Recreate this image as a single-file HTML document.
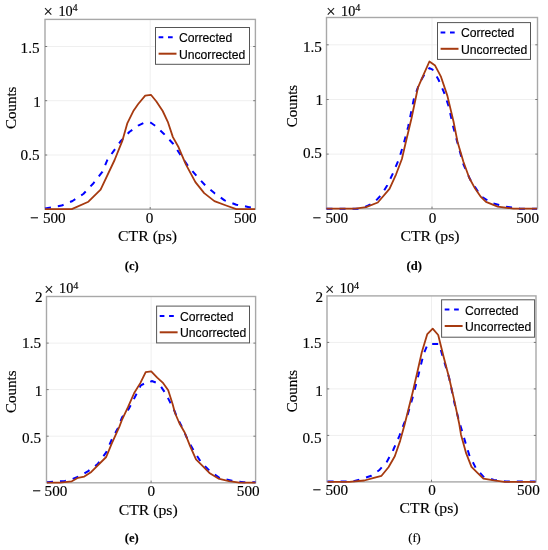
<!DOCTYPE html>
<html><head><meta charset="utf-8"><title>CTR histograms</title>
<style>html,body{margin:0;padding:0;background:#fff;}svg{display:block;filter:blur(0.35px);}
.s{font-family:'Liberation Serif','Times New Roman',serif;}
.a{font-family:'Liberation Sans',Arial,sans-serif;}
text{fill:#000;stroke:#000;stroke-width:0.15px;}</style></head>
<body><svg width="548" height="550" viewBox="0 0 548 550">
<rect width="548" height="550" fill="#fff"/>
<line x1="45" y1="155.0" x2="255.4" y2="155.0" stroke="#efefef" stroke-width="1"/>
<line x1="45" y1="100.7" x2="255.4" y2="100.7" stroke="#efefef" stroke-width="1"/>
<line x1="45" y1="46.5" x2="255.4" y2="46.5" stroke="#efefef" stroke-width="1"/>
<line x1="150.2" y1="19.4" x2="150.2" y2="209.2" stroke="#efefef" stroke-width="1"/>
<rect x="45" y="19.4" width="210.4" height="189.8" fill="none" stroke="#a8a8a8" stroke-width="1.4"/>
<polyline points="45.0,208.4 61.6,205.6 72.5,201.0 83.3,194.0 93.5,183.2 102.5,171.7 107.6,159.4 112.7,152.4 120.4,141.5 129.3,132.0 138.2,125.6 143.9,122.8 147.1,122.0 150.9,122.8 156.0,126.3 164.0,133.9 172.9,143.5 180.5,154.9 188.1,166.1 196.9,176.3 205.7,185.8 214.4,193.1 224.6,200.4 236.3,204.7 248.0,206.9 255.0,208.4" fill="none" stroke="#0000ff" stroke-width="2" stroke-dasharray="6,7" stroke-linejoin="round"/>
<polyline points="45.0,209.1 54.6,209.1 71.8,209.1 88.4,201.7 100.6,189.6 114.6,160.0 122.3,140.9 127.4,123.1 133.7,110.4 138.2,104.0 145.2,95.7 150.9,94.8 156.4,101.5 162.7,111.0 167.8,121.8 172.9,137.1 178.6,147.3 183.7,159.4 186.0,164.6 195.4,182.1 204.2,193.1 214.4,201.1 226.1,205.5 236.3,209.1 248.0,209.1 255.0,209.1" fill="none" stroke="#a63a10" stroke-width="1.8" stroke-linejoin="round"/>
<line x1="45" y1="155.0" x2="47.2" y2="155.0" stroke="#777" stroke-width="1"/>
<line x1="255.4" y1="155.0" x2="253.20000000000002" y2="155.0" stroke="#777" stroke-width="1"/>
<line x1="45" y1="100.7" x2="47.2" y2="100.7" stroke="#777" stroke-width="1"/>
<line x1="255.4" y1="100.7" x2="253.20000000000002" y2="100.7" stroke="#777" stroke-width="1"/>
<line x1="45" y1="46.5" x2="47.2" y2="46.5" stroke="#777" stroke-width="1"/>
<line x1="255.4" y1="46.5" x2="253.20000000000002" y2="46.5" stroke="#777" stroke-width="1"/>
<line x1="150.2" y1="209.2" x2="150.2" y2="207.0" stroke="#777" stroke-width="1"/>
<text x="39.6" y="160.1" text-anchor="end" class="s" font-size="15.2">0.5</text>
<text x="40.9" y="106.9" text-anchor="end" class="s" font-size="15.2">1</text>
<text x="39.6" y="53.4" text-anchor="end" class="s" font-size="15.2">1.5</text>
<text x="34.4" y="222.6" text-anchor="middle" class="s" font-size="15.2">&#8722;</text>
<text x="54.3" y="222.6" text-anchor="middle" class="s" font-size="15.2">500</text>
<text x="149.6" y="222.6" text-anchor="middle" class="s" font-size="15.2">0</text>
<text x="245.3" y="222.6" text-anchor="middle" class="s" font-size="15.2">500</text>
<text transform="translate(147.6,241.0) scale(1.05,1)" text-anchor="middle" class="s" font-size="15.0">CTR (ps)</text>
<text transform="translate(15.6,107.8) rotate(-90)" x="0" y="0" text-anchor="middle" class="s" font-size="15.0">Counts</text>
<text x="131.7" y="270.0" text-anchor="middle" class="s" font-size="12.5" font-weight="bold">(c)</text>
<text x="43.6" y="16.6" class="s" font-size="16.5">&#215;</text>
<text x="58.5" y="15.6" class="s" font-size="14.2">10</text>
<text x="72.6" y="11.0" class="s" font-size="10.2">4</text>
<rect x="155.5" y="27.5" width="94.0" height="36.8" fill="#fff" stroke="#555" stroke-width="1"/>
<line x1="158.6" y1="37.3" x2="176.5" y2="37.3" stroke="#0000ff" stroke-width="2" stroke-dasharray="4.7,4.7"/>
<line x1="158.6" y1="53.7" x2="176.5" y2="53.7" stroke="#a63a10" stroke-width="2"/>
<text x="178.9" y="42.3" class="a" font-size="12.2">Corrected</text>
<text x="178.9" y="58.7" class="a" font-size="12.2">Uncorrected</text>
<line x1="326.5" y1="154.1" x2="537.5" y2="154.1" stroke="#efefef" stroke-width="1"/>
<line x1="326.5" y1="99.5" x2="537.5" y2="99.5" stroke="#efefef" stroke-width="1"/>
<line x1="326.5" y1="44.8" x2="537.5" y2="44.8" stroke="#efefef" stroke-width="1"/>
<line x1="432.0" y1="17.5" x2="432.0" y2="208.8" stroke="#efefef" stroke-width="1"/>
<rect x="326.5" y="17.5" width="211.0" height="191.3" fill="none" stroke="#a8a8a8" stroke-width="1.4"/>
<polyline points="326.5,208.7 361.0,208.7 368.3,205.4 374.2,202.5 381.5,194.7 387.3,185.3 393.2,172.8 399.0,159.0 403.7,143.8 408.1,127.0 413.8,99.2 419.5,82.8 425.3,73.0 429.4,68.1 432.6,69.7 438.4,79.5 444.1,92.6 449.0,107.4 452.5,124.0 456.7,140.1 463.4,164.3 470.1,179.4 480.9,196.1 491.8,203.1 505.2,206.6 520.2,208.7 537.0,208.7" fill="none" stroke="#0000ff" stroke-width="2" stroke-dasharray="6,7" stroke-linejoin="round"/>
<polyline points="326.5,208.7 340.6,208.7 355.2,208.7 366.1,207.2 377.8,202.5 389.5,188.9 396.1,174.3 401.9,159.0 405.5,143.5 411.4,118.8 417.9,87.7 423.6,74.6 429.4,61.5 435.1,65.6 440.8,76.3 447.4,95.9 453.5,121.5 457.5,141.7 463.4,161.8 469.2,177.7 475.1,188.6 480.9,196.9 486.0,201.9 497.7,206.6 513.5,208.7 537.0,208.7" fill="none" stroke="#a63a10" stroke-width="1.8" stroke-linejoin="round"/>
<line x1="326.5" y1="154.1" x2="328.7" y2="154.1" stroke="#777" stroke-width="1"/>
<line x1="537.5" y1="154.1" x2="535.3" y2="154.1" stroke="#777" stroke-width="1"/>
<line x1="326.5" y1="99.5" x2="328.7" y2="99.5" stroke="#777" stroke-width="1"/>
<line x1="537.5" y1="99.5" x2="535.3" y2="99.5" stroke="#777" stroke-width="1"/>
<line x1="326.5" y1="44.8" x2="328.7" y2="44.8" stroke="#777" stroke-width="1"/>
<line x1="537.5" y1="44.8" x2="535.3" y2="44.8" stroke="#777" stroke-width="1"/>
<line x1="432.0" y1="208.8" x2="432.0" y2="206.60000000000002" stroke="#777" stroke-width="1"/>
<text x="321.9" y="158.3" text-anchor="end" class="s" font-size="15.2">0.5</text>
<text x="323.2" y="105.1" text-anchor="end" class="s" font-size="15.2">1</text>
<text x="321.9" y="51.7" text-anchor="end" class="s" font-size="15.2">1.5</text>
<text x="316.9" y="222.8" text-anchor="middle" class="s" font-size="15.2">&#8722;</text>
<text x="336.8" y="222.8" text-anchor="middle" class="s" font-size="15.2">500</text>
<text x="432.5" y="222.8" text-anchor="middle" class="s" font-size="15.2">0</text>
<text x="527.6" y="222.8" text-anchor="middle" class="s" font-size="15.2">500</text>
<text transform="translate(430.0,241.0) scale(1.05,1)" text-anchor="middle" class="s" font-size="15.0">CTR (ps)</text>
<text transform="translate(297.2,106.1) rotate(-90)" x="0" y="0" text-anchor="middle" class="s" font-size="15.0">Counts</text>
<text x="414.2" y="269.8" text-anchor="middle" class="s" font-size="12.5" font-weight="bold">(d)</text>
<text x="326.2" y="16.6" class="s" font-size="16.5">&#215;</text>
<text x="341.1" y="15.6" class="s" font-size="14.2">10</text>
<text x="355.2" y="11.0" class="s" font-size="10.2">4</text>
<rect x="437.5" y="22.6" width="93.0" height="36.8" fill="#fff" stroke="#555" stroke-width="1"/>
<line x1="440.6" y1="32.4" x2="458.5" y2="32.4" stroke="#0000ff" stroke-width="2" stroke-dasharray="4.7,4.7"/>
<line x1="440.6" y1="48.8" x2="458.5" y2="48.8" stroke="#a63a10" stroke-width="2"/>
<text x="460.9" y="37.4" class="a" font-size="12.2">Corrected</text>
<text x="460.9" y="53.8" class="a" font-size="12.2">Uncorrected</text>
<line x1="46.5" y1="436.2" x2="255.6" y2="436.2" stroke="#efefef" stroke-width="1"/>
<line x1="46.5" y1="389.6" x2="255.6" y2="389.6" stroke="#efefef" stroke-width="1"/>
<line x1="46.5" y1="343.1" x2="255.6" y2="343.1" stroke="#efefef" stroke-width="1"/>
<line x1="151.1" y1="296.5" x2="151.1" y2="482.8" stroke="#efefef" stroke-width="1"/>
<rect x="46.5" y="296.5" width="209.1" height="186.3" fill="none" stroke="#a8a8a8" stroke-width="1.4"/>
<polyline points="47.0,482.2 64.8,480.9 72.6,478.9 80.4,475.8 88.2,471.1 97.6,464.1 106.2,452.3 111.6,439.8 117.9,428.1 122.2,417.1 128.8,408.9 135.3,396.3 140.8,385.3 146.3,382.6 148.5,383.1 151.8,381.0 157.2,383.1 160.5,385.9 166.0,394.1 170.4,402.9 174.8,411.6 176.5,416.0 182.5,428.0 188.5,441.4 194.5,451.9 201.2,462.4 210.2,471.4 219.9,478.1 231.9,480.8 243.9,482.2 255.5,482.2" fill="none" stroke="#0000ff" stroke-width="2" stroke-dasharray="6,7" stroke-linejoin="round"/>
<polyline points="47.0,482.7 60.0,482.7 71.8,481.3 78.0,477.8 84.3,476.6 91.3,471.9 106.2,457.0 111.6,443.8 119.4,426.6 122.2,419.3 128.2,406.7 134.2,393.0 140.3,383.1 145.7,372.2 151.2,371.3 157.2,377.7 162.7,382.6 168.2,390.3 172.6,404.0 175.0,413.0 179.5,423.5 184.7,432.5 190.0,445.9 196.0,459.4 202.0,465.4 209.4,472.9 218.4,478.6 228.9,481.1 239.4,482.7 255.5,482.7" fill="none" stroke="#a63a10" stroke-width="1.8" stroke-linejoin="round"/>
<line x1="46.5" y1="436.2" x2="48.7" y2="436.2" stroke="#777" stroke-width="1"/>
<line x1="255.6" y1="436.2" x2="253.4" y2="436.2" stroke="#777" stroke-width="1"/>
<line x1="46.5" y1="389.6" x2="48.7" y2="389.6" stroke="#777" stroke-width="1"/>
<line x1="255.6" y1="389.6" x2="253.4" y2="389.6" stroke="#777" stroke-width="1"/>
<line x1="46.5" y1="343.1" x2="48.7" y2="343.1" stroke="#777" stroke-width="1"/>
<line x1="255.6" y1="343.1" x2="253.4" y2="343.1" stroke="#777" stroke-width="1"/>
<line x1="151.1" y1="482.8" x2="151.1" y2="480.6" stroke="#777" stroke-width="1"/>
<text x="41.1" y="443.2" text-anchor="end" class="s" font-size="15.2">0.5</text>
<text x="42.4" y="396.2" text-anchor="end" class="s" font-size="15.2">1</text>
<text x="41.1" y="348.2" text-anchor="end" class="s" font-size="15.2">1.5</text>
<text x="42.7" y="301.8" text-anchor="end" class="s" font-size="15.2">2</text>
<text x="36.5" y="496.3" text-anchor="middle" class="s" font-size="15.2">&#8722;</text>
<text x="56.0" y="496.3" text-anchor="middle" class="s" font-size="15.2">500</text>
<text x="151.3" y="496.3" text-anchor="middle" class="s" font-size="15.2">0</text>
<text x="248.2" y="496.3" text-anchor="middle" class="s" font-size="15.2">500</text>
<text transform="translate(148.2,514.5) scale(1.05,1)" text-anchor="middle" class="s" font-size="15.0">CTR (ps)</text>
<text transform="translate(16.3,391.7) rotate(-90)" x="0" y="0" text-anchor="middle" class="s" font-size="15.0">Counts</text>
<text x="131.8" y="541.5" text-anchor="middle" class="s" font-size="12.5" font-weight="bold">(e)</text>
<text x="44.2" y="294.5" class="s" font-size="16.5">&#215;</text>
<text x="59.1" y="292.9" class="s" font-size="14.2">10</text>
<text x="73.2" y="288.9" class="s" font-size="10.2">4</text>
<rect x="156.6" y="306.1" width="92.9" height="36.8" fill="#fff" stroke="#555" stroke-width="1"/>
<line x1="159.7" y1="315.9" x2="177.6" y2="315.9" stroke="#0000ff" stroke-width="2" stroke-dasharray="4.7,4.7"/>
<line x1="159.7" y1="332.3" x2="177.6" y2="332.3" stroke="#a63a10" stroke-width="2"/>
<text x="180.0" y="320.9" class="a" font-size="12.2">Corrected</text>
<text x="180.0" y="337.3" class="a" font-size="12.2">Uncorrected</text>
<line x1="327" y1="435.4" x2="536.0" y2="435.4" stroke="#efefef" stroke-width="1"/>
<line x1="327" y1="388.9" x2="536.0" y2="388.9" stroke="#efefef" stroke-width="1"/>
<line x1="327" y1="342.4" x2="536.0" y2="342.4" stroke="#efefef" stroke-width="1"/>
<line x1="431.5" y1="295.9" x2="431.5" y2="481.9" stroke="#efefef" stroke-width="1"/>
<rect x="327" y="295.9" width="209.0" height="186.0" fill="none" stroke="#a8a8a8" stroke-width="1.4"/>
<polyline points="327.6,481.5 352.6,481.5 361.9,478.9 371.3,475.8 379.1,470.3 386.9,461.7 393.2,450.0 399.4,435.9 404.1,423.4 407.3,415.9 413.6,394.1 418.2,375.9 423.6,354.1 427.3,345.0 429.1,343.7 431.8,344.1 439.1,344.1 443.6,359.5 449.1,377.7 454.5,403.2 459.1,421.4 462.5,432.5 465.5,442.9 469.2,454.9 476.0,468.4 483.4,476.6 493.9,479.9 505.9,481.5 535.5,481.5" fill="none" stroke="#0000ff" stroke-width="2" stroke-dasharray="6,7" stroke-linejoin="round"/>
<polyline points="327.6,481.8 349.4,481.8 364.3,480.5 372.9,478.1 381.5,475.8 388.5,467.2 394.8,456.3 400.2,440.6 404.5,425.0 412.7,392.3 417.3,372.3 421.8,352.3 427.3,334.1 432.7,328.6 438.2,335.0 443.6,356.8 449.1,377.7 454.5,401.4 459.1,423.2 461.0,434.7 466.2,453.4 471.5,466.9 477.5,472.9 483.4,478.6 493.9,480.4 504.4,481.8 535.5,481.8" fill="none" stroke="#a63a10" stroke-width="1.8" stroke-linejoin="round"/>
<line x1="327" y1="435.4" x2="329.2" y2="435.4" stroke="#777" stroke-width="1"/>
<line x1="536.0" y1="435.4" x2="533.8" y2="435.4" stroke="#777" stroke-width="1"/>
<line x1="327" y1="388.9" x2="329.2" y2="388.9" stroke="#777" stroke-width="1"/>
<line x1="536.0" y1="388.9" x2="533.8" y2="388.9" stroke="#777" stroke-width="1"/>
<line x1="327" y1="342.4" x2="329.2" y2="342.4" stroke="#777" stroke-width="1"/>
<line x1="536.0" y1="342.4" x2="533.8" y2="342.4" stroke="#777" stroke-width="1"/>
<line x1="431.5" y1="481.9" x2="431.5" y2="479.7" stroke="#777" stroke-width="1"/>
<text x="321.5" y="443.4" text-anchor="end" class="s" font-size="15.2">0.5</text>
<text x="322.8" y="396.4" text-anchor="end" class="s" font-size="15.2">1</text>
<text x="321.5" y="348.2" text-anchor="end" class="s" font-size="15.2">1.5</text>
<text x="323.1" y="301.7" text-anchor="end" class="s" font-size="15.2">2</text>
<text x="316.9" y="495.0" text-anchor="middle" class="s" font-size="15.2">&#8722;</text>
<text x="336.8" y="495.0" text-anchor="middle" class="s" font-size="15.2">500</text>
<text x="432.0" y="495.0" text-anchor="middle" class="s" font-size="15.2">0</text>
<text x="528.4" y="495.0" text-anchor="middle" class="s" font-size="15.2">500</text>
<text transform="translate(429.1,513.0) scale(1.05,1)" text-anchor="middle" class="s" font-size="15.0">CTR (ps)</text>
<text transform="translate(297.2,391.1) rotate(-90)" x="0" y="0" text-anchor="middle" class="s" font-size="15.0">Counts</text>
<text x="414.5" y="542.0" text-anchor="middle" class="s" font-size="12.5" font-weight="normal">(f)</text>
<text x="324.9" y="294.5" class="s" font-size="16.5">&#215;</text>
<text x="339.8" y="292.9" class="s" font-size="14.2">10</text>
<text x="353.9" y="288.9" class="s" font-size="10.2">4</text>
<rect x="441.6" y="299.8" width="93.0" height="37.4" fill="#fff" stroke="#555" stroke-width="1"/>
<line x1="444.7" y1="309.6" x2="462.6" y2="309.6" stroke="#0000ff" stroke-width="2" stroke-dasharray="4.7,4.7"/>
<line x1="444.7" y1="326.0" x2="462.6" y2="326.0" stroke="#a63a10" stroke-width="2"/>
<text x="465.0" y="314.6" class="a" font-size="12.2">Corrected</text>
<text x="465.0" y="331.0" class="a" font-size="12.2">Uncorrected</text>
</svg></body></html>
